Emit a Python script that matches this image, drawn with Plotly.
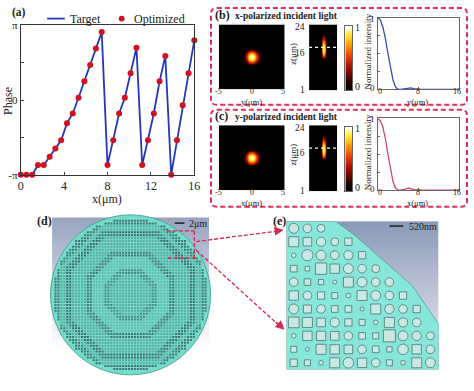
import plotly.graph_objects as go

W, H = 474, 391
FONT = "Liberation Serif"

# ---------- panel (a) ----------
phase_x = [0, 0.53, 1.07, 1.6, 2.13, 2.67, 3.2, 3.73, 4.27, 4.8, 5.33, 5.87, 6.4, 6.93, 7.47,
           8.0, 8.53, 9.07, 9.6, 10.13, 10.67, 11.2, 11.73, 12.27, 12.8, 13.33, 13.87, 14.4, 14.93, 15.47, 16.0]
phase_pi = [-1, -1, -1, -0.87, -0.87, -0.76, -0.65, -0.54, -0.31, -0.18, 0.03, 0.25, 0.47, 0.69, 0.91,
            -0.87, -0.54, -0.18, 0.03, 0.36, 0.70, -0.87, -0.54, -0.18, 0.25, 0.59, -1, -0.54, -0.07, 0.36, 0.80]

# ---------- focal spots ----------
spot_axis = [-5, -1.6, -1.2, -0.8, -0.4, 0, 0.4, 0.8, 1.2, 1.6, 5]
spot_z = [
    [0, 0, 0, 0, 0, 0, 0, 0, 0, 0, 0],
    [0, 0, 0, 0, 0, 0.01, 0, 0, 0, 0, 0],
    [0, 0, 0, 0.02, 0.08, 0.12, 0.08, 0.02, 0, 0, 0],
    [0, 0, 0.02, 0.18, 0.42, 0.52, 0.42, 0.18, 0.02, 0, 0],
    [0, 0, 0.08, 0.42, 0.8, 0.92, 0.8, 0.42, 0.08, 0, 0],
    [0, 0.01, 0.12, 0.52, 0.92, 1.0, 0.92, 0.52, 0.12, 0.01, 0],
    [0, 0, 0.08, 0.42, 0.8, 0.92, 0.8, 0.42, 0.08, 0, 0],
    [0, 0, 0.02, 0.18, 0.42, 0.52, 0.42, 0.18, 0.02, 0, 0],
    [0, 0, 0, 0.02, 0.08, 0.12, 0.08, 0.02, 0, 0, 0],
    [0, 0, 0, 0, 0, 0.01, 0, 0, 0, 0, 0],
    [0, 0, 0, 0, 0, 0, 0, 0, 0, 0, 0],
]
slice_x = [-5, -1.3, -0.9, -0.5, 0, 0.5, 0.9, 1.3, 5]
slice_y = [1, 11, 12, 13, 14, 15, 16, 17, 18, 19, 20, 21, 24]
slice_z = [
    [0, 0, 0, 0, 0, 0, 0, 0, 0],
    [0, 0, 0, 0, 0, 0, 0, 0, 0],
    [0, 0, 0, 0.06, 0.12, 0.06, 0, 0, 0],
    [0, 0, 0.05, 0.3, 0.55, 0.3, 0.05, 0, 0],
    [0, 0, 0.1, 0.55, 0.9, 0.55, 0.1, 0, 0],
    [0, 0, 0.14, 0.7, 1.0, 0.7, 0.14, 0, 0],
    [0, 0, 0.14, 0.7, 1.0, 0.7, 0.14, 0, 0],
    [0, 0, 0.12, 0.62, 0.95, 0.62, 0.12, 0, 0],
    [0, 0, 0.08, 0.42, 0.72, 0.42, 0.08, 0, 0],
    [0, 0, 0.03, 0.25, 0.45, 0.25, 0.03, 0, 0],
    [0, 0, 0, 0.1, 0.25, 0.1, 0, 0, 0],
    [0, 0, 0, 0, 0, 0, 0, 0, 0],
    [0, 0, 0, 0, 0, 0, 0, 0, 0],
]
cbar_levels = [0, 0.12, 0.25, 0.4, 0.55, 0.7, 0.85, 1.0]
hot = [[0, "#000000"], [0.12, "#1e0000"], [0.35, "#a00c00"], [0.55, "#f03c00"],
       [0.75, "#ffb000"], [0.9, "#fff040"], [1, "#ffffff"]]

# ---------- intensity profiles ----------
prof_x = [0, 0.5, 1, 1.5, 2, 2.5, 3, 3.5, 4, 4.5, 5, 5.5, 6, 6.5, 7, 7.5, 8, 10, 12, 14, 16]
prof_b = [1, 0.97, 0.87, 0.71, 0.50, 0.30, 0.13, 0.03, 0, 0, 0.005, 0.015, 0.025, 0.02, 0.01, 0, 0, 0, 0, 0, 0]
prof_c = [1, 0.97, 0.88, 0.72, 0.50, 0.29, 0.12, 0.03, 0, 0, 0.005, 0.015, 0.03, 0.025, 0.01, 0, 0, 0.005, 0, 0, 0]

# ---------- panel (d) ring pattern ----------
ring_outer = [20, 26, 40, 46, 60, 66, 72, 81]
ring_tone = [0.55, 0.72, 0.45, 0.8, 0.55, 0.85, 0.55, 0.8]

# ---------- panel (e) meta-atoms: shape code + size per row ----------
atom_rows = [
    ["c30", "c26", "c24"],
    ["s30", "s26", "c28", "c24", "s22"],
    ["c14", "c34", "c30", "c26", "c28", "s22"],
    ["s20", "s14", "s34", "s28", "c30", "c26", "c24"],
    ["c26", "s20", "s16", "c12", "s30", "c30", "c26", "c26"],
    ["s28", "c26", "s22", "s18", "c14", "s30", "c30", "c26", "s22"],
    ["c30", "s24", "c26", "s20", "s20", "c12", "s30", "c28", "c26", "s22"],
    ["s32", "s30", "s26", "c28", "s22", "s18", "c14", "s30", "c28", "c26"],
    ["c14", "s28", "s28", "s26", "c26", "s20", "s18", "s36", "c30", "c28", "c24"],
    ["s18", "c12", "s30", "s28", "s26", "c26", "s20", "s16", "c32", "s28", "c26"],
    ["s22", "s18", "c14", "s30", "c32", "s28", "c26", "s18", "c14", "s30", "c30"],
]
teal_x = [3.06, 4.5, 8.68, 10.6, 10.6, -0.53, -0.53, 3.06]
teal_y = [-0.53, 0.55, 4.27, 7.1, 10.5, 10.5, -0.53, -0.53]

fig = go.Figure()
layout = {}
axis_n = [0]


def box(l, t, r, b, xr, yr, xopts=None, yopts=None):
    axis_n[0] += 1
    n = axis_n[0]
    s = "" if n == 1 else str(n)
    base = dict(showgrid=False, zeroline=False, showline=False, ticks="", showticklabels=False,
                fixedrange=True, tickfont=dict(family=FONT, size=11, color="#222"))
    xa = dict(base, domain=[l / W, r / W], range=xr, anchor="y" + s)
    ya = dict(base, domain=[1 - b / H, 1 - t / H], range=yr, anchor="x" + s)
    xa.update(xopts or {})
    ya.update(yopts or {})
    layout["xaxis" + s] = xa
    layout["yaxis" + s] = ya
    return "x" + s, "y" + s


framed = dict(showline=True, linecolor="#333", linewidth=1, mirror=True)
soft = dict(showline=True, linecolor="#666", linewidth=1, mirror=True)
shapes, anns = [], []
ANCH = {"left": "left", "middle": "center", "end": "right"}


def text(x, y, s, size=11, bold=False, color="#222", anchor="left", angle=0):
    anns.append(dict(xref="paper", yref="paper", x=x / W, y=1 - y / H, text=f"<b>{s}</b>" if bold else s,
                     showarrow=False, xanchor=ANCH[anchor], yanchor="middle", textangle=angle,
                     font=dict(family=FONT, size=size, color=color)))


def pline(x0, y0, x1, y1, color="#d82a50", width=1.3, dash="4px,2px"):
    shapes.append(dict(type="line", xref="paper", yref="paper", x0=x0 / W, x1=x1 / W, y0=1 - y0 / H, y1=1 - y1 / H,
                       line=dict(color=color, width=width, dash=dash)))


def dbox(l, t, r, b, c=6):
    px = lambda x: x / W
    py = lambda y: 1 - y / H
    path = (f"M {px(l+c)} {py(t)} L {px(r-c)} {py(t)} Q {px(r)} {py(t)} {px(r)} {py(t+c)} L {px(r)} {py(b-c)} "
            f"Q {px(r)} {py(b)} {px(r-c)} {py(b)} L {px(l+c)} {py(b)} Q {px(l)} {py(b)} {px(l)} {py(b-c)} "
            f"L {px(l)} {py(t+c)} Q {px(l)} {py(t)} {px(l+c)} {py(t)} Z")
    shapes.append(dict(type="path", xref="paper", yref="paper", path=path,
                       line=dict(color="#e0305a", width=2, dash="5px,3px")))


# ---- (a)
xa, ya = box(18, 20, 195, 174, [0, 16], [-1, 1],
             dict(framed, showticklabels=True, ticks="inside", ticklen=3, tickvals=[0, 4, 8, 12, 16],
                  tickfont=dict(family=FONT, size=12, color="#222")),
             dict(framed, showticklabels=True, ticks="inside", ticklen=3, tickvals=[-1, -0.5, 0, 0.5, 1],
                  ticktext=["-π", "", "0", "", "π"], tickfont=dict(family=FONT, size=11, color="#222")))
fig.add_trace(go.Scatter(x=phase_x, y=phase_pi, mode="lines", name="Target", xaxis=xa, yaxis=ya,
                         line=dict(color="#2238b8", width=1.8), cliponaxis=False))
fig.add_trace(go.Scatter(x=phase_x, y=phase_pi, mode="markers", name="Optimized", xaxis=xa, yaxis=ya,
                         marker=dict(color="#d4101e", size=6), cliponaxis=False))
text(106, 199, "x(μm)", 12, anchor="middle")
text(5, 98, "Phase", 12, anchor="middle", angle=-90)
text(7, 6.5, "(a)", 11.5, True)
# legend key
pline(45, 13, 63, 13, "#2238b8", 1.8, "solid")
text(66, 13, "Target", 12)
shapes.append(dict(type="circle", xref="paper", yref="paper", x0=118 / W, x1=124 / W, y0=1 - 16 / H, y1=1 - 10 / H,
                   fillcolor="#d4101e", line=dict(width=0)))
text(132, 13, "Optimized", 12)


def focal(top, ylabel_a, ylabel_b, prof, col, title_letter, title):
    t = top
    # xy spot
    xa, ya = box(220, t, 287, t + 67, [-5, 5], [-5, 5])
    fig.add_trace(go.Heatmap(x=spot_axis, y=spot_axis, z=spot_z, colorscale=hot, zmin=0, zmax=1, zsmooth="best",
                             showscale=False, xaxis=xa, yaxis=ya))
    text(220, t + 69.5, "-5", 8, anchor="middle")
    text(253.5, t + 69.5, "0", 8, anchor="middle")
    text(285, t + 69.5, "5", 8, anchor="middle")
    text(253.5, t + 80, ylabel_a, 8.5, anchor="middle")
    # xz slice
    xa, ya = box(312, t, 341, t + 68, [-5, 5], [1, 24])
    fig.add_trace(go.Heatmap(x=slice_x, y=slice_y, z=slice_z, colorscale=hot, zmin=0, zmax=1, zsmooth="best",
                             showscale=False, xaxis=xa, yaxis=ya))
    fig.add_trace(go.Scatter(x=[-5, 5], y=[16, 16], mode="lines", line=dict(color="white", width=1.2, dash="dot"),
                             xaxis=xa, yaxis=ya))
    text(310, t + 3, "24", 9.5, anchor="end")
    text(310, t + 29, "16", 9.5, anchor="end")
    text(310, t + 68, "1", 9.5, anchor="end")
    text(296, t + 30, "z(μm)", 9, anchor="middle", angle=-90)
    # colour bar
    xa, ya = box(349, t + 2, 356, t + 68, [0, 1], [0, 1], dict(soft), dict(soft))
    fig.add_trace(go.Heatmap(x=[0, 1], y=cbar_levels, z=[[v, v] for v in cbar_levels],
                             colorscale=hot, zmin=0, zmax=1, zsmooth="best", showscale=False, xaxis=xa, yaxis=ya))
    text(357, t + 3, "1", 10)
    text(357, t + 64, "0", 10)
    # profile
    xa, ya = box(382, t - 7, 465, t + 67, [0, 16], [0, 1],
                 dict(soft, ticks="inside", ticklen=2, tickvals=[0, 8, 16], tickcolor="#666"),
                 dict(soft, ticks="inside", ticklen=2, tickvals=[0, 0.25, 0.5, 0.75, 1], tickcolor="#666"))
    fig.add_trace(go.Scatter(x=prof_x, y=prof, mode="lines", line=dict(color=col, width=1.3), xaxis=xa, yaxis=ya))
    text(381, t - 6, "1", 9, anchor="end")
    text(381, t + 66, "0", 9, anchor="end")
    text(384, t + 69.5, "0", 8, anchor="middle")
    text(423, t + 69.5, "8", 8, anchor="middle")
    text(463, t + 69.5, "16", 8, anchor="middle")
    text(423, t + 80, ylabel_b, 8.5, anchor="middle")
    text(372, t + 28, "Normalized intensity", 9, anchor="middle", angle=-90)
    text(214, t - 10, title_letter, 12, True)
    text(234, t - 9, title, 9.5, True)


focal(19, "y(μm)", "y(μm)", prof_b, "#3c48b0", "(b)", "x-polarized incident light")
focal(123, "x(μm)", "x(μm)", prof_c, "#d8486a", "(c)", "y-polarized incident light")
dbox(212, 2, 473, 102)
dbox(212, 107, 473, 207)

# ---- (d)
bx, by = box(50, 218, 210, 352, [0, 1], [1, 0])
fig.add_trace(go.Heatmap(x=[0, 1], y=[0, 0.4, 1], z=[[0, 0], [0.45, 0.45], [1, 1]],
                         colorscale=[[0, "#98a4bf"], [0.45, "#c0c9da"], [1, "#ffffff"]], zsmooth="best",
                         showscale=False, xaxis=bx, yaxis=by))
xa, ya = box(50, 218, 210, 378, [-80, 80], [80, -80])
fig.add_trace(go.Scatter(x=[0], y=[0], mode="markers", xaxis=xa, yaxis=ya, cliponaxis=False,
                         marker=dict(size=160, color="#74dcca", line=dict(color="#4fa89a", width=1))))
gx, gy, gc = [], [], []
for i in range(-52, 53):
    for j in range(-52, 53):
        if i % 2 == 0 or j % 2 == 0:
            continue
        px_, py_ = i * 1.5, j * 1.5
        if px_ * px_ + py_ * py_ > 78.5 ** 2:
            continue
        ax_, ay_ = abs(px_), abs(py_)
        oct_r = max(ax_, ay_, (ax_ + ay_) * 0.7071)
        tone = next(tt for rr, tt in zip(ring_outer, ring_tone) if oct_r <= rr or rr == 81)
        gx.append(px_)
        gy.append(py_)
        gc.append(tone)
fig.add_trace(go.Scatter(x=gx, y=gy, mode="markers", xaxis=xa, yaxis=ya,
                         marker=dict(symbol="square", size=2, color=gc, cmin=0, cmax=1,
                                     colorscale=[[0, "#a8efe2"], [0.5, "#5fb5a8"], [1, "#33494c"]], line=dict(width=0))))
text(33, 222, "(d)", 12, True)
pline(175, 224, 185, 224, "#222", 1.5, "solid")
text(188, 224, "2μm", 10)
# callout in (d)
pline(167, 232, 195, 232)
pline(195, 232, 195, 260)
pline(168, 260, 197, 260)
pline(197, 243, 282, 232)
pline(197, 252, 284, 332)
for (x0, y0, x1, y1) in [(197, 243, 286, 231), (197, 252, 287, 334)]:
    anns.append(dict(xref="paper", yref="paper", x=x1 / W, y=1 - y1 / H, ax=-10, ay=(y0 - y1) * 10 / (x1 - x0),
                     showarrow=True, arrowhead=2, arrowsize=1.2, arrowwidth=1.5, arrowcolor="#d82a50", text=""))

# ---- (e)
ba, bb = box(289, 222, 444, 375, [0, 1], [1, 0])
fig.add_trace(go.Heatmap(x=[0, 1], y=[0, 0.5, 1], z=[[0, 0], [0.5, 0.5], [1, 1]],
                         colorscale=[[0, "#8c9ab8"], [1, "#f4f4fa"]], zsmooth="best", showscale=False,
                         xaxis=ba, yaxis=bb))
xa, ya = box(289, 222, 444, 375, [-0.53, 10.6], [10.5, -0.53])
fig.add_trace(go.Scatter(x=teal_x, y=teal_y, mode="lines", fill="toself", fillcolor="#86e6d8",
                         line=dict(color="#5a9a98", width=0.8), xaxis=xa, yaxis=ya))
for shape_code, symbol in (("c", "circle"), ("s", "square")):
    ax_, ay_, sz = [], [], []
    for r, row in enumerate(atom_rows):
        for c, atom in enumerate(row):
            if atom[0] == shape_code:
                ax_.append(c)
                ay_.append(r)
                sz.append(int(atom[1:]) / 3)
    fig.add_trace(go.Scatter(x=ax_, y=ay_, mode="markers", xaxis=xa, yaxis=ya,
                             marker=dict(symbol=symbol, size=sz, color="#e6e8e8", line=dict(color="#4f6a68", width=1))))
text(273, 222, "(e)", 12, True)
pline(394, 227, 408, 227, "#222", 1.5, "solid")
text(412, 227, "520nm", 10)

fig.update_traces(showlegend=False)
fig.update_layout(
    width=W, height=H, autosize=False, margin=dict(l=0, r=0, t=0, b=0), paper_bgcolor="white",
    plot_bgcolor="rgba(0,0,0,0)", showlegend=False,
    shapes=shapes, annotations=anns, font=dict(family=FONT), **layout)

fig.write_html("out.html", config=dict(displayModeBar=False), post_script="document.body.style.margin='0';")
